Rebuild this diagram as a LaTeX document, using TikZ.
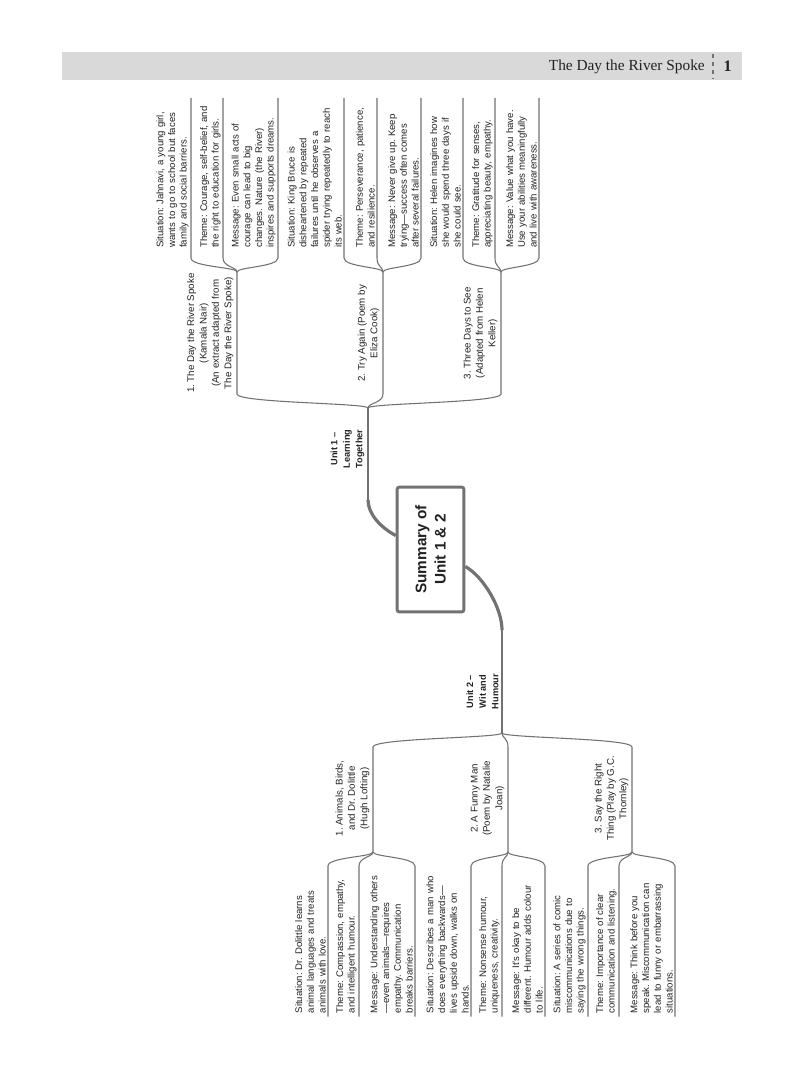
\documentclass[tikz,border=0pt]{standalone}
\usepackage{fontspec}
\setmainfont{Liberation Sans}
\newfontfamily\headfont{Liberation Serif}
\usepackage{tikz}
\usetikzlibrary{positioning}
\usetikzlibrary{calc}
\definecolor{linegray}{HTML}{727272}
\definecolor{bandgray}{HTML}{D9D9D9}
\definecolor{inkgray}{HTML}{222222}

% brace arm: from fork #1 to line end #2, direction #3 (1 down, -1 up)
\newcommand{\armto}[3]{%
  \coordinate (bend) at (#1 -| #2);
  \draw[branch] (#1) .. controls ($(#1)+(0,{5*#3})$) and ($(bend)+(0,{5*#3})$) .. ($(bend)+(0,{14*#3})$) -- (#2);%
}

\begin{document}
\frenchspacing
\begin{tikzpicture}[x=0.75pt, y=-0.75pt,
branch/.style={draw=linegray, line width=0.8pt},
trunk/.style={draw=linegray, line width=2.4pt},
rootbox/.style={rectangle, draw=linegray, line width=2.2pt, rounded corners=1.5pt, fill=white, minimum width=93.5pt, minimum height=50pt, align=center, text=inkgray, font=\fontsize{11.5}{14.5}\selectfont\bfseries, rotate=90},
unitlabel/.style={rotate=90, anchor=south, align=center, inner ysep=2.5pt, text=inkgray, font=\fontsize{6.9}{9.4}\selectfont\bfseries},
storylabel/.style={rotate=90, anchor=south, align=center, inner ysep=2.5pt, text=inkgray, font=\fontsize{7.3}{9.3}\selectfont},
leaf/.style={rotate=90, anchor=south west, align=left, text width=110pt, inner xsep=2.25pt, inner ysep=1.5pt, text=inkgray, font=\fontsize{7.2}{8.8}\selectfont},
]
\useasboundingbox (0,0) rectangle (800,1075);

%Header
\fill[bandgray] (62,52) rectangle (742,80);
\node[anchor=east, inner sep=0pt, text=inkgray, font=\headfont\fontsize{11.5}{13}\selectfont] (runhead) at (705,66.5) {The Day the River Spoke};
\draw[linegray, dashed, line width=0.8pt] (713,54) -- (713,79);
\node[inner sep=0pt, text=inkgray, font=\headfont\bfseries\fontsize{12}{13}\selectfont] (pageno) at (727.5,66.5) {1};

%Nodes
\node[rootbox] (root) at (430.5,549.5) {Summary of\\Unit 1 \& 2};

\coordinate (u1) at (368,408);
\coordinate (u1bend) at (368,500);
\coordinate (u1top) at (368,490);
\coordinate (u2) at (502,733);
\coordinate (u2bend) at (502,630);
\coordinate (u2top) at (502,650);

\coordinate (c11) at (237,272);
\coordinate (c12) at (383,272);
\coordinate (c13) at (501,272);
\coordinate (c21) at (373,852);
\coordinate (c22) at (508,852);
\coordinate (c23) at (632,852);

\node[unitlabel] (unit1) at ($(u1)!0.5!(u1top)$) {Unit 1 –\\Learning\\Together};
\node[unitlabel] (unit2) at ($(u2)!0.5!(u2top)$) {Unit 2 –\\Wit and\\Humour};

\node[storylabel] (st11) at ($(c11)!0.45!(u1 -| c11)$) {1. The Day the River Spoke\\(Kamala Nair)\\(An extract adapted from\\The Day the River Spoke)};
\node[storylabel] (st12) at ($(c12)!0.45!(u1 -| c12)$) {2. Try Again (Poem by\\Eliza Cook)};
\node[storylabel] (st13) at ($(c13)!0.45!(u1 -| c13)$) {3. Three Days to See\\(Adapted from Helen\\Keller)};
\node[storylabel] (st21) at ($(c21)!0.45!(u2 -| c21)$) {1. Animals, Birds,\\and Dr. Dolittle\\(Hugh Lofting)};
\node[storylabel] (st22) at ($(c22)!0.45!(u2 -| c22)$) {2. A Funny Man\\(Poem by Natalie\\Joan)};
\node[storylabel] (st23) at ($(c23)!0.45!(u2 -| c23)$) {3. Say the Right\\Thing (Play by G.C.\\Thornley)};

\node[leaf] (sit11) at (191,251) {Situation: Jahnavi, a young girl,\\wants to go to school but faces\\family and social barriers.};
\node[leaf] (thm11) at (223,251) {Theme: Courage, self-belief, and\\the right to education for girls.};
\node[leaf] (msg11) at (278,251) {Message: Even small acts of\\courage can lead to big\\changes. Nature (the River)\\inspires and supports dreams.};
\node[leaf] (sit12) at (344,251) {Situation: King Bruce is\\disheartened by repeated\\failures until he observes a\\spider trying repeatedly to reach\\its web.};
\node[leaf] (thm12) at (377,251) {Theme: Perseverance, patience,\\and resilience.};
\node[leaf] (msg12) at (421,251) {Message: Never give up. Keep\\trying—success often comes\\after several failures.};
\node[leaf] (sit13) at (463,251) {Situation: Helen imagines how\\she would spend three days if\\she could see.};
\node[leaf] (thm13) at (495,251) {Theme: Gratitude for senses,\\appreciating beauty, empathy.};
\node[leaf] (msg13) at (539,251) {Message: Value what you have.\\Use your abilities meaningfully\\and live with awareness.};

\node[leaf] (sit21) at (328,1016.5) {Situation: Dr. Dolittle learns\\animal languages and treats\\animals with love.};
\node[leaf] (thm21) at (359,1016.5) {Theme: Compassion, empathy,\\and intelligent humour.};
\node[leaf] (msg21) at (415,1016.5) {Message: Understanding others\\—even animals—requires\\empathy. Communication\\breaks barriers.};
\node[leaf] (sit22) at (471,1016.5) {Situation: Describes a man who\\does everything backwards—\\lives upside down, walks on\\hands.};
\node[leaf] (thm22) at (502,1016.5) {Theme: Nonsense humour,\\uniqueness, creativity.};
\node[leaf] (msg22) at (545,1016.5) {Message: It's okay to be\\different. Humour adds colour\\to life.};
\node[leaf] (sit23) at (588,1016.5) {Situation: A series of comic\\miscommunications due to\\saying the wrong things.};
\node[leaf] (thm23) at (619,1016.5) {Theme: Importance of clear\\communication and listening.};
\node[leaf] (msg23) at (675,1016.5) {Message: Think before you\\speak. Miscommunication can\\lead to funny or embarrassing\\situations.};

%Lines
\draw[trunk] ($(root.north)+(0,-14)$) .. controls +(-15,-8) and +(0,14) .. (u1bend);
\draw[linegray, line width=1.5pt] (u1bend) -- (u1top);
\draw[branch] (u1top) -- (u1);
\draw[trunk] ($(root.south)+(0,17)$) .. controls +(18,10) and +(0,-22) .. (u2bend);
\draw[linegray, line width=1.5pt] (u2bend) -- (u2top);
\draw[branch] (u2top) -- (u2);

\armto{u1}{c11}{-1}
\armto{u1}{c12}{-1}
\armto{u1}{c13}{-1}
\armto{u2}{c21}{1}
\armto{u2}{c22}{1}
\armto{u2}{c23}{1}

\armto{c11}{sit11.south east}{-1}
\armto{c11}{thm11.south east}{-1}
\armto{c11}{msg11.south east}{-1}
\armto{c12}{sit12.south east}{-1}
\armto{c12}{thm12.south east}{-1}
\armto{c12}{msg12.south east}{-1}
\armto{c13}{sit13.south east}{-1}
\armto{c13}{thm13.south east}{-1}
\armto{c13}{msg13.south east}{-1}

\armto{c21}{sit21.south west}{1}
\armto{c21}{thm21.south west}{1}
\armto{c21}{msg21.south west}{1}
\armto{c22}{sit22.south west}{1}
\armto{c22}{thm22.south west}{1}
\armto{c22}{msg22.south west}{1}
\armto{c23}{sit23.south west}{1}
\armto{c23}{thm23.south west}{1}
\armto{c23}{msg23.south west}{1}
\end{tikzpicture}
\end{document}
